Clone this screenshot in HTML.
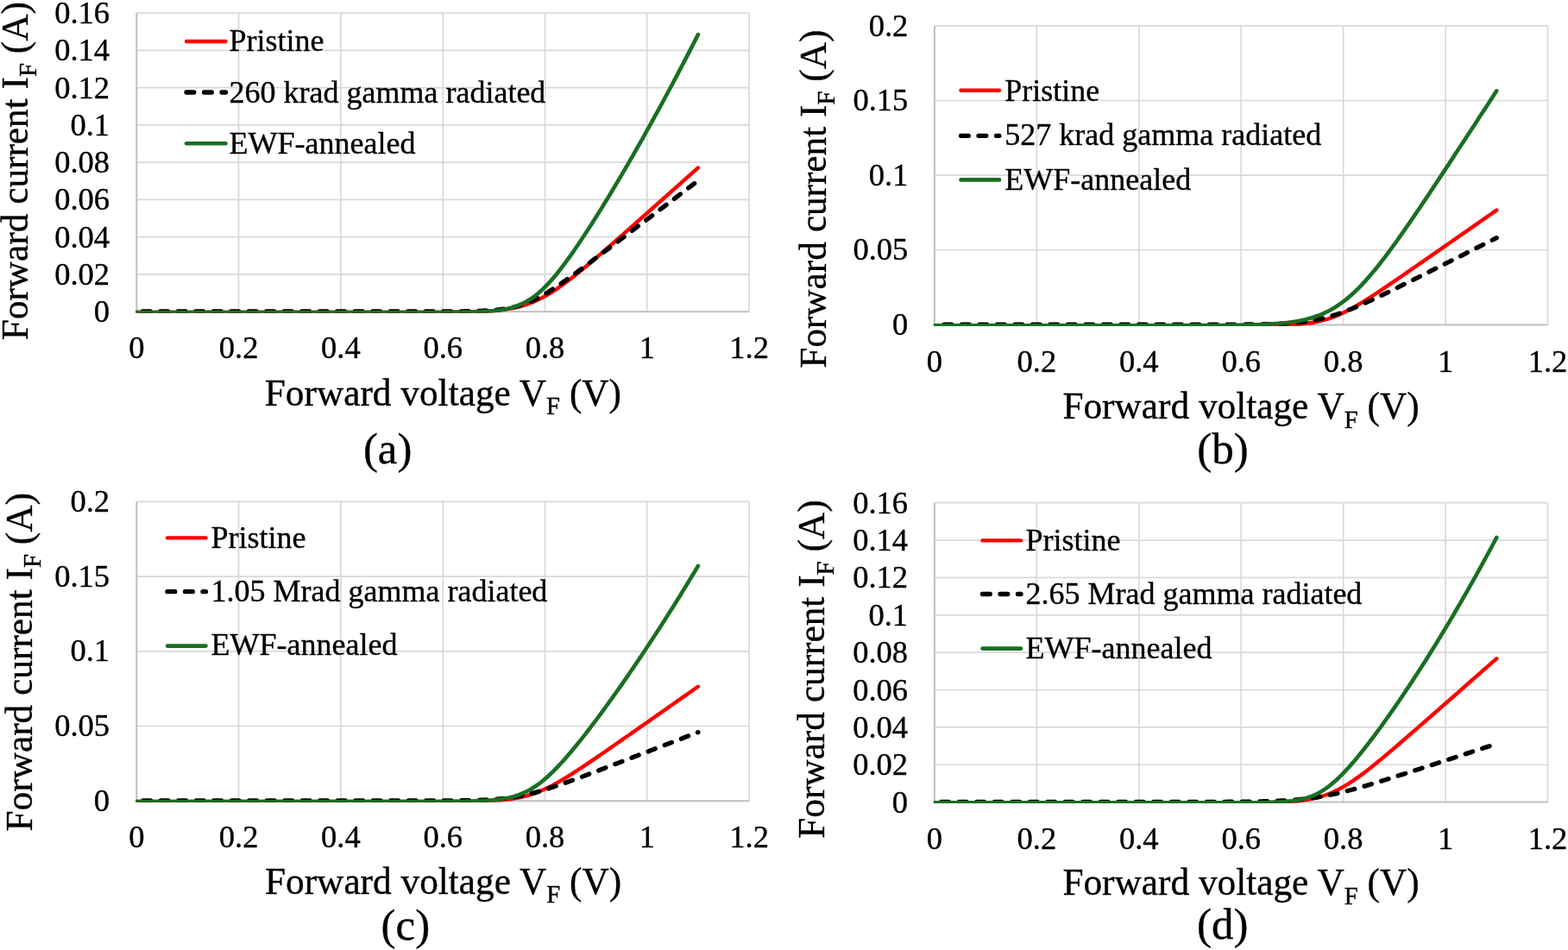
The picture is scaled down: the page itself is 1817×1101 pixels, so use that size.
<!DOCTYPE html>
<html lang="en"><head><meta charset="utf-8"><title>Forward I-V characteristics</title>
<style>
html,body{margin:0;padding:0;background:#fff;}
body{width:1817px;height:1101px;overflow:hidden;font-family:"Liberation Serif",serif;}
svg{display:block;}
</style></head><body>
<svg width="1817" height="1101" viewBox="0 0 1817 1101" font-family="Liberation Serif, serif" fill="#000">
<style>text{stroke:#000;stroke-width:0.35px;stroke-linejoin:round}</style>
<rect width="1817" height="1101" fill="#fff"/>
<g id="panel-a">
<path d="M158.3 317.94H868.1M158.3 274.68H868.1M158.3 231.41H868.1M158.3 188.15H868.1M158.3 144.89H868.1M158.3 101.62H868.1M158.3 58.36H868.1M158.3 15.1H868.1M276.6 15.1V361.2M394.9 15.1V361.2M513.2 15.1V361.2M631.5 15.1V361.2M749.8 15.1V361.2M868.1 15.1V361.2" stroke="#d9d9d9" stroke-width="1.7" fill="none"/>
<path d="M158.3 15.1V361.2H868.1" stroke="#bfbfbf" stroke-width="2" fill="none" stroke-linejoin="round"/>
<clipPath id="clip-a"><rect x="157.3" y="14.1" width="711.8" height="348.6"/></clipPath>
<g clip-path="url(#clip-a)">
<path d="M158.3 362 L161.26 362 L164.22 362 L167.17 362 L170.13 362 L173.09 362 L176.05 362 L179 362 L181.96 362 L184.92 362 L187.88 362 L190.83 362 L193.79 362 L196.75 362 L199.71 362 L202.66 362 L205.62 362 L208.58 362 L211.53 362 L214.49 362 L217.45 362 L220.41 362 L223.37 362 L226.32 362 L229.28 362 L232.24 362 L235.19 362 L238.15 362 L241.11 362 L244.07 362 L247.03 362 L249.98 362 L252.94 362 L255.9 362 L258.86 362 L261.81 362 L264.77 362 L267.73 362 L270.69 362 L273.64 362 L276.6 362 L279.56 362 L282.51 362 L285.47 362 L288.43 362 L291.39 362 L294.35 362 L297.3 362 L300.26 362 L303.22 362 L306.18 362 L309.13 362 L312.09 362 L315.05 362 L318 362 L320.96 362 L323.92 362 L326.88 362 L329.84 362 L332.79 362 L335.75 362 L338.71 362 L341.67 362 L344.62 362 L347.58 362 L350.54 362 L353.5 362 L356.45 362 L359.41 362 L362.37 362 L365.33 362 L368.28 362 L371.24 362 L374.2 362 L377.15 362 L380.11 362 L383.07 362 L386.03 362 L388.99 362 L391.94 362 L394.9 362 L397.86 362 L400.82 362 L403.77 362 L406.73 362 L409.69 362 L412.64 362 L415.6 362 L418.56 362 L421.52 362 L424.47 362 L427.43 362 L430.39 362 L433.35 362 L436.31 362 L439.26 362 L442.22 362 L445.18 361.99 L448.13 361.99 L451.09 361.99 L454.05 361.99 L457.01 361.99 L459.97 361.99 L462.92 361.99 L465.88 361.99 L468.84 361.98 L471.8 361.98 L474.75 361.98 L477.71 361.98 L480.67 361.97 L483.62 361.97 L486.58 361.96 L489.54 361.96 L492.5 361.95 L495.46 361.94 L498.41 361.94 L501.37 361.93 L504.33 361.92 L507.28 361.9 L510.24 361.89 L513.2 361.87 L516.16 361.85 L519.12 361.83 L522.07 361.81 L525.03 361.78 L527.99 361.75 L530.94 361.71 L533.9 361.67 L536.86 361.62 L539.82 361.57 L542.78 361.5 L545.73 361.43 L548.69 361.35 L551.65 361.25 L554.61 361.14 L557.56 361.02 L560.52 360.88 L563.48 360.72 L566.44 360.53 L569.39 360.33 L572.35 360.09 L575.31 359.82 L578.26 359.52 L581.22 359.18 L584.18 358.79 L587.14 358.36 L590.1 357.88 L593.05 357.34 L596.01 356.73 L598.97 356.06 L601.92 355.32 L604.88 354.51 L607.84 353.61 L610.8 352.63 L613.75 351.57 L616.71 350.41 L619.67 349.17 L622.63 347.84 L625.59 346.41 L628.54 344.9 L631.5 343.29 L634.46 341.61 L637.41 339.84 L640.37 337.99 L643.33 336.07 L646.29 334.08 L649.25 332.03 L652.2 329.91 L655.16 327.74 L658.12 325.52 L661.08 323.26 L664.03 320.95 L666.99 318.61 L669.95 316.24 L672.9 313.83 L675.86 311.4 L678.82 308.94 L681.78 306.46 L684.73 303.97 L687.69 301.45 L690.65 298.93 L693.61 296.39 L696.57 293.84 L699.52 291.28 L702.48 288.71 L705.44 286.13 L708.39 283.55 L711.35 280.96 L714.31 278.36 L717.27 275.76 L720.23 273.16 L723.18 270.55 L726.14 267.95 L729.1 265.33 L732.06 262.72 L735.01 260.1 L737.97 257.49 L740.93 254.87 L743.88 252.25 L746.84 249.63 L749.8 247 L752.76 244.38 L755.71 241.75 L758.67 239.13 L761.63 236.5 L764.59 233.88 L767.55 231.25 L770.5 228.63 L773.46 226 L776.42 223.37 L779.38 220.74 L782.33 218.12 L785.29 215.49 L788.25 212.86 L791.2 210.23 L794.16 207.6 L797.12 204.97 L800.08 202.35 L803.04 199.72 L805.99 197.09 L808.95 194.46" stroke="#ff0000" stroke-width="4.4" fill="none" stroke-linecap="round" stroke-linejoin="round"/>
<path d="M808.95 209.38 L805.99 211.62 L803.04 213.87 L800.08 216.11 L797.12 218.36 L794.16 220.6 L791.2 222.84 L788.25 225.09 L785.29 227.33 L782.33 229.58 L779.38 231.82 L776.42 234.06 L773.46 236.31 L770.5 238.55 L767.55 240.8 L764.59 243.04 L761.63 245.28 L758.67 247.53 L755.71 249.77 L752.76 252.02 L749.8 254.26 L746.84 256.5 L743.88 258.75 L740.93 260.99 L737.97 263.23 L735.01 265.47 L732.06 267.72 L729.1 269.96 L726.14 272.2 L723.18 274.44 L720.23 276.68 L717.27 278.92 L714.31 281.16 L711.35 283.4 L708.39 285.63 L705.44 287.87 L702.48 290.1 L699.52 292.34 L696.57 294.56 L693.61 296.79 L690.65 299.02 L687.69 301.24 L684.73 303.45 L681.78 305.66 L678.82 307.87 L675.86 310.06 L672.9 312.25 L669.95 314.43 L666.99 316.6 L664.03 318.76 L661.08 320.9 L658.12 323.02 L655.16 325.12 L652.2 327.2 L649.25 329.25 L646.29 331.26 L643.33 333.24 L640.37 335.18 L637.41 337.07 L634.46 338.91 L631.5 340.69 L628.54 342.41 L625.59 344.06 L622.63 345.63 L619.67 347.12 L616.71 348.52 L613.75 349.83 L610.8 351.05 L607.84 352.18 L604.88 353.22 L601.92 354.16 L598.97 355.01 L596.01 355.78 L593.05 356.46 L590.1 357.07 L587.14 357.6 L584.18 358.07 L581.22 358.48 L578.26 358.84 L575.31 359.15 L572.35 359.42 L569.39 359.65 L566.44 359.85 L563.48 360.02 L560.52 360.17 L557.56 360.29 L554.61 360.4 L551.65 360.49 L548.69 360.57 L545.73 360.63 L542.78 360.69 L539.82 360.74 L536.86 360.78 L533.9 360.81 L530.94 360.84 L527.99 360.86 L525.03 360.89 L522.07 360.9 L519.12 360.92 L516.16 360.93 L513.2 360.94 L510.24 360.95 L507.28 360.96 L504.33 360.96 L501.37 360.97 L498.41 360.97 L495.46 360.98 L492.5 360.98 L489.54 360.98 L486.58 360.99 L483.62 360.99 L480.67 360.99 L477.71 360.99 L474.75 360.99 L471.8 360.99 L468.84 361 L465.88 361 L462.92 361 L459.97 361 L457.01 361 L454.05 361 L451.09 361 L448.13 361 L445.18 361 L442.22 361 L439.26 361 L436.31 361 L433.35 361 L430.39 361 L427.43 361 L424.47 361 L421.52 361 L418.56 361 L415.6 361 L412.64 361 L409.69 361 L406.73 361 L403.77 361 L400.82 361 L397.86 361 L394.9 361 L391.94 361 L388.99 361 L386.03 361 L383.07 361 L380.11 361 L377.15 361 L374.2 361 L371.24 361 L368.28 361 L365.33 361 L362.37 361 L359.41 361 L356.45 361 L353.5 361 L350.54 361 L347.58 361 L344.62 361 L341.67 361 L338.71 361 L335.75 361 L332.79 361 L329.84 361 L326.88 361 L323.92 361 L320.96 361 L318 361 L315.05 361 L312.09 361 L309.13 361 L306.18 361 L303.22 361 L300.26 361 L297.3 361 L294.35 361 L291.39 361 L288.43 361 L285.47 361 L282.51 361 L279.56 361 L276.6 361 L273.64 361 L270.69 361 L267.73 361 L264.77 361 L261.81 361 L258.86 361 L255.9 361 L252.94 361 L249.98 361 L247.03 361 L244.07 361 L241.11 361 L238.15 361 L235.19 361 L232.24 361 L229.28 361 L226.32 361 L223.37 361 L220.41 361 L217.45 361 L214.49 361 L211.53 361 L208.58 361 L205.62 361 L202.66 361 L199.71 361 L196.75 361 L193.79 361 L190.83 361 L187.88 361 L184.92 361 L181.96 361 L179 361 L176.05 361 L173.09 361 L170.13 361 L167.17 361 L164.22 361 L161.26 361 L158.3 361" stroke="#000000" stroke-width="5.3" fill="none" stroke-linecap="round" stroke-linejoin="round" stroke-dasharray="8.8 11.7" stroke-dashoffset="15.2"/>
<path d="M158.3 362 L161.26 362 L164.22 362 L167.17 362 L170.13 362 L173.09 362 L176.05 362 L179 362 L181.96 362 L184.92 362 L187.88 362 L190.83 362 L193.79 362 L196.75 362 L199.71 362 L202.66 362 L205.62 362 L208.58 362 L211.53 362 L214.49 362 L217.45 362 L220.41 362 L223.37 362 L226.32 362 L229.28 362 L232.24 362 L235.19 362 L238.15 362 L241.11 362 L244.07 362 L247.03 362 L249.98 362 L252.94 362 L255.9 362 L258.86 362 L261.81 362 L264.77 362 L267.73 362 L270.69 362 L273.64 362 L276.6 362 L279.56 362 L282.51 362 L285.47 362 L288.43 362 L291.39 362 L294.35 362 L297.3 362 L300.26 362 L303.22 362 L306.18 362 L309.13 362 L312.09 362 L315.05 362 L318 362 L320.96 362 L323.92 362 L326.88 362 L329.84 362 L332.79 362 L335.75 362 L338.71 362 L341.67 362 L344.62 362 L347.58 362 L350.54 362 L353.5 362 L356.45 362 L359.41 362 L362.37 362 L365.33 362 L368.28 362 L371.24 362 L374.2 362 L377.15 362 L380.11 362 L383.07 362 L386.03 362 L388.99 362 L391.94 362 L394.9 362 L397.86 362 L400.82 362 L403.77 362 L406.73 362 L409.69 362 L412.64 362 L415.6 362 L418.56 362 L421.52 362 L424.47 362 L427.43 362 L430.39 362 L433.35 362 L436.31 362 L439.26 362 L442.22 362 L445.18 362 L448.13 362 L451.09 362 L454.05 362 L457.01 362 L459.97 362 L462.92 362 L465.88 362 L468.84 361.99 L471.8 361.99 L474.75 361.99 L477.71 361.99 L480.67 361.99 L483.62 361.99 L486.58 361.98 L489.54 361.98 L492.5 361.98 L495.46 361.97 L498.41 361.97 L501.37 361.96 L504.33 361.96 L507.28 361.95 L510.24 361.94 L513.2 361.93 L516.16 361.92 L519.12 361.9 L522.07 361.89 L525.03 361.87 L527.99 361.84 L530.94 361.81 L533.9 361.78 L536.86 361.74 L539.82 361.69 L542.78 361.64 L545.73 361.57 L548.69 361.5 L551.65 361.41 L554.61 361.3 L557.56 361.18 L560.52 361.03 L563.48 360.86 L566.44 360.66 L569.39 360.42 L572.35 360.15 L575.31 359.82 L578.26 359.45 L581.22 359.01 L584.18 358.5 L587.14 357.92 L590.1 357.24 L593.05 356.46 L596.01 355.58 L598.97 354.56 L601.92 353.42 L604.88 352.12 L607.84 350.67 L610.8 349.06 L613.75 347.27 L616.71 345.3 L619.67 343.15 L622.63 340.81 L625.59 338.29 L628.54 335.59 L631.5 332.72 L634.46 329.68 L637.41 326.48 L640.37 323.13 L643.33 319.64 L646.29 316.02 L649.25 312.28 L652.2 308.43 L655.16 304.47 L658.12 300.43 L661.08 296.3 L664.03 292.09 L666.99 287.81 L669.95 283.46 L672.9 279.05 L675.86 274.59 L678.82 270.08 L681.78 265.52 L684.73 260.91 L687.69 256.27 L690.65 251.58 L693.61 246.85 L696.57 242.09 L699.52 237.3 L702.48 232.47 L705.44 227.61 L708.39 222.72 L711.35 217.79 L714.31 212.84 L717.27 207.86 L720.23 202.85 L723.18 197.81 L726.14 192.74 L729.1 187.65 L732.06 182.53 L735.01 177.38 L737.97 172.2 L740.93 167 L743.88 161.77 L746.84 156.51 L749.8 151.23 L752.76 145.92 L755.71 140.59 L758.67 135.22 L761.63 129.84 L764.59 124.42 L767.55 118.98 L770.5 113.52 L773.46 108.02 L776.42 102.51 L779.38 96.96 L782.33 91.39 L785.29 85.8 L788.25 80.17 L791.2 74.53 L794.16 68.85 L797.12 63.15 L800.08 57.43 L803.04 51.68 L805.99 45.9 L808.95 40.09" stroke="#1a6f22" stroke-width="4.6" fill="none" stroke-linecap="round" stroke-linejoin="round"/>
</g>
<g font-size="36.5" text-anchor="end">
<text x="127" y="373.1">0</text>
<text x="127" y="329.84">0.02</text>
<text x="127" y="286.57">0.04</text>
<text x="127" y="243.31">0.06</text>
<text x="127" y="200.05">0.08</text>
<text x="127" y="156.79">0.1</text>
<text x="127" y="113.53">0.12</text>
<text x="127" y="70.26">0.14</text>
<text x="127" y="27">0.16</text>
</g>
<g font-size="36.5" text-anchor="middle">
<text x="158.3" y="415.4">0</text>
<text x="276.6" y="415.4">0.2</text>
<text x="394.9" y="415.4">0.4</text>
<text x="513.2" y="415.4">0.6</text>
<text x="631.5" y="415.4">0.8</text>
<text x="749.8" y="415.4">1</text>
<text x="868.1" y="415.4">1.2</text>
</g>
<path d="M216 48H261.5" stroke="#ff0000" stroke-width="4.4" stroke-linecap="round"/>
<text x="265.5" y="58.7" font-size="36.0">Pristine</text>
<path d="M216 107H261.5" stroke="#000000" stroke-width="5.3" stroke-linecap="round" stroke-dasharray="8.8 11.7"/>
<text x="265.5" y="118.9" font-size="36.0">260 krad gamma radiated</text>
<path d="M216 166.3H261.5" stroke="#1a6f22" stroke-width="4.6" stroke-linecap="round"/>
<text x="265.5" y="178" font-size="36.0">EWF-annealed</text>
<text x="513.4" y="469.6" font-size="43.3" text-anchor="middle">Forward voltage V<tspan font-size="28.79" dy="10.3">F</tspan><tspan dy="-10.3"> (V)</tspan></text>
<text transform="translate(31.5 198.2) rotate(-90)" font-size="43.3" text-anchor="middle">Forward current I<tspan font-size="28.79" dy="10.3">F</tspan><tspan dy="-10.3"> (A)</tspan></text>
<text x="449.2" y="536.6" font-size="51" text-anchor="middle">(a)</text>
</g>
<g id="panel-b">
<path d="M1082.9 289.77H1793.5M1082.9 203.15H1793.5M1082.9 116.52H1793.5M1082.9 29.9H1793.5M1201.33 29.9V376.4M1319.77 29.9V376.4M1438.2 29.9V376.4M1556.63 29.9V376.4M1675.07 29.9V376.4M1793.5 29.9V376.4" stroke="#d9d9d9" stroke-width="1.7" fill="none"/>
<path d="M1082.9 29.9V376.4H1793.5" stroke="#bfbfbf" stroke-width="2" fill="none" stroke-linejoin="round"/>
<clipPath id="clip-b"><rect x="1081.9" y="28.9" width="712.6" height="349"/></clipPath>
<g clip-path="url(#clip-b)">
<path d="M1082.9 377.2 L1085.86 377.2 L1088.82 377.2 L1091.78 377.2 L1094.74 377.2 L1097.7 377.2 L1100.67 377.2 L1103.63 377.2 L1106.59 377.2 L1109.55 377.2 L1112.51 377.2 L1115.47 377.2 L1118.43 377.2 L1121.39 377.2 L1124.35 377.2 L1127.31 377.2 L1130.27 377.2 L1133.23 377.2 L1136.2 377.2 L1139.16 377.2 L1142.12 377.2 L1145.08 377.2 L1148.04 377.2 L1151 377.2 L1153.96 377.2 L1156.92 377.2 L1159.88 377.2 L1162.84 377.2 L1165.8 377.2 L1168.76 377.2 L1171.73 377.2 L1174.69 377.2 L1177.65 377.2 L1180.61 377.2 L1183.57 377.2 L1186.53 377.2 L1189.49 377.2 L1192.45 377.2 L1195.41 377.2 L1198.37 377.2 L1201.33 377.2 L1204.29 377.2 L1207.26 377.2 L1210.22 377.2 L1213.18 377.2 L1216.14 377.2 L1219.1 377.2 L1222.06 377.2 L1225.02 377.2 L1227.98 377.2 L1230.94 377.2 L1233.9 377.2 L1236.86 377.2 L1239.82 377.2 L1242.79 377.2 L1245.75 377.2 L1248.71 377.2 L1251.67 377.2 L1254.63 377.2 L1257.59 377.2 L1260.55 377.2 L1263.51 377.2 L1266.47 377.2 L1269.43 377.2 L1272.39 377.2 L1275.35 377.2 L1278.32 377.2 L1281.28 377.2 L1284.24 377.2 L1287.2 377.2 L1290.16 377.2 L1293.12 377.2 L1296.08 377.2 L1299.04 377.2 L1302 377.2 L1304.96 377.2 L1307.92 377.2 L1310.88 377.2 L1313.85 377.2 L1316.81 377.2 L1319.77 377.2 L1322.73 377.2 L1325.69 377.2 L1328.65 377.2 L1331.61 377.2 L1334.57 377.2 L1337.53 377.2 L1340.49 377.2 L1343.45 377.2 L1346.41 377.2 L1349.38 377.2 L1352.34 377.2 L1355.3 377.2 L1358.26 377.2 L1361.22 377.2 L1364.18 377.2 L1367.14 377.2 L1370.1 377.2 L1373.06 377.2 L1376.02 377.2 L1378.98 377.2 L1381.94 377.2 L1384.91 377.2 L1387.87 377.2 L1390.83 377.2 L1393.79 377.2 L1396.75 377.2 L1399.71 377.19 L1402.67 377.19 L1405.63 377.19 L1408.59 377.19 L1411.55 377.19 L1414.51 377.19 L1417.47 377.19 L1420.44 377.18 L1423.4 377.18 L1426.36 377.18 L1429.32 377.17 L1432.28 377.17 L1435.24 377.16 L1438.2 377.16 L1441.16 377.15 L1444.12 377.14 L1447.08 377.13 L1450.04 377.12 L1453 377.1 L1455.97 377.09 L1458.93 377.07 L1461.89 377.04 L1464.85 377.02 L1467.81 376.99 L1470.77 376.95 L1473.73 376.91 L1476.69 376.85 L1479.65 376.79 L1482.61 376.72 L1485.57 376.64 L1488.53 376.55 L1491.5 376.44 L1494.46 376.31 L1497.42 376.16 L1500.38 375.98 L1503.34 375.78 L1506.3 375.54 L1509.26 375.27 L1512.22 374.96 L1515.18 374.61 L1518.14 374.2 L1521.1 373.74 L1524.06 373.22 L1527.03 372.63 L1529.99 371.98 L1532.95 371.24 L1535.91 370.44 L1538.87 369.55 L1541.83 368.57 L1544.79 367.52 L1547.75 366.38 L1550.71 365.16 L1553.67 363.86 L1556.63 362.48 L1559.59 361.04 L1562.56 359.52 L1565.52 357.94 L1568.48 356.31 L1571.44 354.62 L1574.4 352.89 L1577.36 351.11 L1580.32 349.3 L1583.28 347.45 L1586.24 345.58 L1589.2 343.67 L1592.16 341.75 L1595.12 339.81 L1598.09 337.85 L1601.05 335.87 L1604.01 333.88 L1606.97 331.89 L1609.93 329.88 L1612.89 327.86 L1615.85 325.84 L1618.81 323.81 L1621.77 321.78 L1624.73 319.74 L1627.69 317.7 L1630.65 315.66 L1633.62 313.61 L1636.58 311.56 L1639.54 309.51 L1642.5 307.46 L1645.46 305.41 L1648.42 303.35 L1651.38 301.3 L1654.34 299.24 L1657.3 297.18 L1660.26 295.13 L1663.22 293.07 L1666.18 291.01 L1669.14 288.95 L1672.11 286.89 L1675.07 284.83 L1678.03 282.77 L1680.99 280.71 L1683.95 278.65 L1686.91 276.59 L1689.87 274.52 L1692.83 272.46 L1695.79 270.4 L1698.75 268.34 L1701.71 266.28 L1704.68 264.22 L1707.64 262.16 L1710.6 260.1 L1713.56 258.03 L1716.52 255.97 L1719.48 253.91 L1722.44 251.85 L1725.4 249.79 L1728.36 247.73 L1731.32 245.66 L1734.28 243.6" stroke="#ff0000" stroke-width="4.4" fill="none" stroke-linecap="round" stroke-linejoin="round"/>
<path d="M1734.28 275.69 L1731.32 277.18 L1728.36 278.67 L1725.4 280.16 L1722.44 281.65 L1719.48 283.14 L1716.52 284.63 L1713.56 286.12 L1710.6 287.61 L1707.64 289.1 L1704.68 290.59 L1701.71 292.08 L1698.75 293.57 L1695.79 295.06 L1692.83 296.55 L1689.87 298.04 L1686.91 299.53 L1683.95 301.02 L1680.99 302.51 L1678.03 304 L1675.07 305.49 L1672.11 306.97 L1669.14 308.46 L1666.18 309.95 L1663.22 311.44 L1660.26 312.92 L1657.3 314.41 L1654.34 315.89 L1651.38 317.38 L1648.42 318.86 L1645.46 320.34 L1642.5 321.82 L1639.54 323.3 L1636.58 324.78 L1633.62 326.25 L1630.65 327.72 L1627.69 329.19 L1624.73 330.66 L1621.77 332.13 L1618.81 333.59 L1615.85 335.04 L1612.89 336.5 L1609.93 337.94 L1606.97 339.38 L1604.01 340.81 L1601.05 342.24 L1598.09 343.65 L1595.12 345.06 L1592.16 346.45 L1589.2 347.84 L1586.24 349.2 L1583.28 350.55 L1580.32 351.89 L1577.36 353.2 L1574.4 354.49 L1571.44 355.76 L1568.48 357 L1565.52 358.21 L1562.56 359.39 L1559.59 360.53 L1556.63 361.64 L1553.67 362.71 L1550.71 363.73 L1547.75 364.72 L1544.79 365.65 L1541.83 366.54 L1538.87 367.38 L1535.91 368.17 L1532.95 368.92 L1529.99 369.61 L1527.03 370.25 L1524.06 370.84 L1521.1 371.39 L1518.14 371.89 L1515.18 372.35 L1512.22 372.76 L1509.26 373.14 L1506.3 373.48 L1503.34 373.79 L1500.38 374.06 L1497.42 374.31 L1494.46 374.53 L1491.5 374.73 L1488.53 374.9 L1485.57 375.06 L1482.61 375.19 L1479.65 375.31 L1476.69 375.42 L1473.73 375.52 L1470.77 375.6 L1467.81 375.67 L1464.85 375.74 L1461.89 375.8 L1458.93 375.85 L1455.97 375.89 L1453 375.93 L1450.04 375.96 L1447.08 375.99 L1444.12 376.02 L1441.16 376.04 L1438.2 376.06 L1435.24 376.08 L1432.28 376.09 L1429.32 376.11 L1426.36 376.12 L1423.4 376.13 L1420.44 376.14 L1417.47 376.14 L1414.51 376.15 L1411.55 376.16 L1408.59 376.16 L1405.63 376.17 L1402.67 376.17 L1399.71 376.18 L1396.75 376.18 L1393.79 376.18 L1390.83 376.18 L1387.87 376.19 L1384.91 376.19 L1381.94 376.19 L1378.98 376.19 L1376.02 376.19 L1373.06 376.19 L1370.1 376.19 L1367.14 376.19 L1364.18 376.2 L1361.22 376.2 L1358.26 376.2 L1355.3 376.2 L1352.34 376.2 L1349.38 376.2 L1346.41 376.2 L1343.45 376.2 L1340.49 376.2 L1337.53 376.2 L1334.57 376.2 L1331.61 376.2 L1328.65 376.2 L1325.69 376.2 L1322.73 376.2 L1319.77 376.2 L1316.81 376.2 L1313.85 376.2 L1310.88 376.2 L1307.92 376.2 L1304.96 376.2 L1302 376.2 L1299.04 376.2 L1296.08 376.2 L1293.12 376.2 L1290.16 376.2 L1287.2 376.2 L1284.24 376.2 L1281.28 376.2 L1278.32 376.2 L1275.35 376.2 L1272.39 376.2 L1269.43 376.2 L1266.47 376.2 L1263.51 376.2 L1260.55 376.2 L1257.59 376.2 L1254.63 376.2 L1251.67 376.2 L1248.71 376.2 L1245.75 376.2 L1242.79 376.2 L1239.82 376.2 L1236.86 376.2 L1233.9 376.2 L1230.94 376.2 L1227.98 376.2 L1225.02 376.2 L1222.06 376.2 L1219.1 376.2 L1216.14 376.2 L1213.18 376.2 L1210.22 376.2 L1207.26 376.2 L1204.29 376.2 L1201.33 376.2 L1198.37 376.2 L1195.41 376.2 L1192.45 376.2 L1189.49 376.2 L1186.53 376.2 L1183.57 376.2 L1180.61 376.2 L1177.65 376.2 L1174.69 376.2 L1171.73 376.2 L1168.76 376.2 L1165.8 376.2 L1162.84 376.2 L1159.88 376.2 L1156.92 376.2 L1153.96 376.2 L1151 376.2 L1148.04 376.2 L1145.08 376.2 L1142.12 376.2 L1139.16 376.2 L1136.2 376.2 L1133.23 376.2 L1130.27 376.2 L1127.31 376.2 L1124.35 376.2 L1121.39 376.2 L1118.43 376.2 L1115.47 376.2 L1112.51 376.2 L1109.55 376.2 L1106.59 376.2 L1103.63 376.2 L1100.67 376.2 L1097.7 376.2 L1094.74 376.2 L1091.78 376.2 L1088.82 376.2 L1085.86 376.2 L1082.9 376.2" stroke="#000000" stroke-width="5.3" fill="none" stroke-linecap="round" stroke-linejoin="round" stroke-dasharray="8.8 11.7" stroke-dashoffset="3.1"/>
<path d="M1082.9 377.2 L1085.86 377.2 L1088.82 377.2 L1091.78 377.2 L1094.74 377.2 L1097.7 377.2 L1100.67 377.2 L1103.63 377.2 L1106.59 377.2 L1109.55 377.2 L1112.51 377.2 L1115.47 377.2 L1118.43 377.2 L1121.39 377.2 L1124.35 377.2 L1127.31 377.2 L1130.27 377.2 L1133.23 377.2 L1136.2 377.2 L1139.16 377.2 L1142.12 377.2 L1145.08 377.2 L1148.04 377.2 L1151 377.2 L1153.96 377.2 L1156.92 377.2 L1159.88 377.2 L1162.84 377.2 L1165.8 377.2 L1168.76 377.2 L1171.73 377.2 L1174.69 377.2 L1177.65 377.2 L1180.61 377.2 L1183.57 377.2 L1186.53 377.2 L1189.49 377.2 L1192.45 377.2 L1195.41 377.2 L1198.37 377.2 L1201.33 377.2 L1204.29 377.2 L1207.26 377.2 L1210.22 377.2 L1213.18 377.2 L1216.14 377.2 L1219.1 377.2 L1222.06 377.2 L1225.02 377.2 L1227.98 377.2 L1230.94 377.2 L1233.9 377.2 L1236.86 377.2 L1239.82 377.2 L1242.79 377.2 L1245.75 377.2 L1248.71 377.2 L1251.67 377.2 L1254.63 377.2 L1257.59 377.2 L1260.55 377.2 L1263.51 377.2 L1266.47 377.2 L1269.43 377.2 L1272.39 377.2 L1275.35 377.2 L1278.32 377.2 L1281.28 377.2 L1284.24 377.2 L1287.2 377.2 L1290.16 377.2 L1293.12 377.2 L1296.08 377.2 L1299.04 377.2 L1302 377.2 L1304.96 377.2 L1307.92 377.2 L1310.88 377.2 L1313.85 377.2 L1316.81 377.2 L1319.77 377.19 L1322.73 377.19 L1325.69 377.19 L1328.65 377.19 L1331.61 377.19 L1334.57 377.19 L1337.53 377.19 L1340.49 377.19 L1343.45 377.19 L1346.41 377.19 L1349.38 377.18 L1352.34 377.18 L1355.3 377.18 L1358.26 377.18 L1361.22 377.17 L1364.18 377.17 L1367.14 377.17 L1370.1 377.17 L1373.06 377.16 L1376.02 377.16 L1378.98 377.15 L1381.94 377.15 L1384.91 377.14 L1387.87 377.13 L1390.83 377.12 L1393.79 377.11 L1396.75 377.1 L1399.71 377.09 L1402.67 377.08 L1405.63 377.07 L1408.59 377.05 L1411.55 377.03 L1414.51 377.01 L1417.47 376.99 L1420.44 376.97 L1423.4 376.94 L1426.36 376.91 L1429.32 376.88 L1432.28 376.84 L1435.24 376.79 L1438.2 376.75 L1441.16 376.69 L1444.12 376.63 L1447.08 376.57 L1450.04 376.49 L1453 376.41 L1455.97 376.32 L1458.93 376.22 L1461.89 376.1 L1464.85 375.97 L1467.81 375.83 L1470.77 375.67 L1473.73 375.5 L1476.69 375.3 L1479.65 375.08 L1482.61 374.84 L1485.57 374.57 L1488.53 374.27 L1491.5 373.93 L1494.46 373.57 L1497.42 373.16 L1500.38 372.71 L1503.34 372.21 L1506.3 371.66 L1509.26 371.05 L1512.22 370.38 L1515.18 369.64 L1518.14 368.84 L1521.1 367.95 L1524.06 366.99 L1527.03 365.94 L1529.99 364.79 L1532.95 363.55 L1535.91 362.2 L1538.87 360.74 L1541.83 359.18 L1544.79 357.49 L1547.75 355.69 L1550.71 353.76 L1553.67 351.71 L1556.63 349.53 L1559.59 347.22 L1562.56 344.79 L1565.52 342.23 L1568.48 339.55 L1571.44 336.74 L1574.4 333.82 L1577.36 330.79 L1580.32 327.64 L1583.28 324.39 L1586.24 321.03 L1589.2 317.58 L1592.16 314.04 L1595.12 310.42 L1598.09 306.71 L1601.05 302.93 L1604.01 299.08 L1606.97 295.17 L1609.93 291.2 L1612.89 287.18 L1615.85 283.1 L1618.81 278.98 L1621.77 274.82 L1624.73 270.62 L1627.69 266.39 L1630.65 262.12 L1633.62 257.83 L1636.58 253.51 L1639.54 249.17 L1642.5 244.8 L1645.46 240.42 L1648.42 236.02 L1651.38 231.61 L1654.34 227.18 L1657.3 222.74 L1660.26 218.28 L1663.22 213.82 L1666.18 209.35 L1669.14 204.87 L1672.11 200.38 L1675.07 195.89 L1678.03 191.39 L1680.99 186.88 L1683.95 182.37 L1686.91 177.86 L1689.87 173.34 L1692.83 168.82 L1695.79 164.29 L1698.75 159.77 L1701.71 155.24 L1704.68 150.7 L1707.64 146.17 L1710.6 141.64 L1713.56 137.1 L1716.52 132.56 L1719.48 128.02 L1722.44 123.48 L1725.4 118.94 L1728.36 114.39 L1731.32 109.85 L1734.28 105.31" stroke="#1a6f22" stroke-width="4.6" fill="none" stroke-linecap="round" stroke-linejoin="round"/>
</g>
<g font-size="36.5" text-anchor="end">
<text x="1052.3" y="388">0</text>
<text x="1052.3" y="301.38">0.05</text>
<text x="1052.3" y="214.75">0.1</text>
<text x="1052.3" y="128.12">0.15</text>
<text x="1052.3" y="41.5">0.2</text>
</g>
<g font-size="36.5" text-anchor="middle">
<text x="1082.9" y="431.3">0</text>
<text x="1201.33" y="431.3">0.2</text>
<text x="1319.77" y="431.3">0.4</text>
<text x="1438.2" y="431.3">0.6</text>
<text x="1556.63" y="431.3">0.8</text>
<text x="1675.07" y="431.3">1</text>
<text x="1793.5" y="431.3">1.2</text>
</g>
<path d="M1113.5 104.7H1158" stroke="#ff0000" stroke-width="4.4" stroke-linecap="round"/>
<text x="1164.3" y="116.5" font-size="36.0">Pristine</text>
<path d="M1113.5 157.3H1158" stroke="#000000" stroke-width="5.3" stroke-linecap="round" stroke-dasharray="8.8 11.7"/>
<text x="1164.3" y="168.3" font-size="36.0">527 krad gamma radiated</text>
<path d="M1113.5 208.4H1158" stroke="#1a6f22" stroke-width="4.6" stroke-linecap="round"/>
<text x="1164.3" y="219.9" font-size="36.0">EWF-annealed</text>
<text x="1438" y="485.2" font-size="43.3" text-anchor="middle">Forward voltage V<tspan font-size="28.79" dy="10.3">F</tspan><tspan dy="-10.3"> (V)</tspan></text>
<text transform="translate(956.8 230.7) rotate(-90)" font-size="43.3" text-anchor="middle">Forward current I<tspan font-size="28.79" dy="10.3">F</tspan><tspan dy="-10.3"> (A)</tspan></text>
<text x="1417" y="537.3" font-size="51" text-anchor="middle">(b)</text>
</g>
<g id="panel-c">
<path d="M158.3 841.5H868.1M158.3 754.8H868.1M158.3 668.1H868.1M158.3 581.4H868.1M276.6 581.4V928.2M394.9 581.4V928.2M513.2 581.4V928.2M631.5 581.4V928.2M749.8 581.4V928.2M868.1 581.4V928.2" stroke="#d9d9d9" stroke-width="1.7" fill="none"/>
<path d="M158.3 581.4V928.2H868.1" stroke="#bfbfbf" stroke-width="2" fill="none" stroke-linejoin="round"/>
<clipPath id="clip-c"><rect x="157.3" y="580.4" width="711.8" height="349.3"/></clipPath>
<g clip-path="url(#clip-c)">
<path d="M158.3 929 L161.26 929 L164.22 929 L167.17 929 L170.13 929 L173.09 929 L176.05 929 L179 929 L181.96 929 L184.92 929 L187.88 929 L190.83 929 L193.79 929 L196.75 929 L199.71 929 L202.66 929 L205.62 929 L208.58 929 L211.53 929 L214.49 929 L217.45 929 L220.41 929 L223.37 929 L226.32 929 L229.28 929 L232.24 929 L235.19 929 L238.15 929 L241.11 929 L244.07 929 L247.03 929 L249.98 929 L252.94 929 L255.9 929 L258.86 929 L261.81 929 L264.77 929 L267.73 929 L270.69 929 L273.64 929 L276.6 929 L279.56 929 L282.51 929 L285.47 929 L288.43 929 L291.39 929 L294.35 929 L297.3 929 L300.26 929 L303.22 929 L306.18 929 L309.13 929 L312.09 929 L315.05 929 L318 929 L320.96 929 L323.92 929 L326.88 929 L329.84 929 L332.79 929 L335.75 929 L338.71 929 L341.67 929 L344.62 929 L347.58 929 L350.54 929 L353.5 929 L356.45 929 L359.41 929 L362.37 929 L365.33 929 L368.28 929 L371.24 929 L374.2 929 L377.15 929 L380.11 929 L383.07 929 L386.03 929 L388.99 929 L391.94 929 L394.9 929 L397.86 929 L400.82 929 L403.77 929 L406.73 929 L409.69 929 L412.64 929 L415.6 929 L418.56 929 L421.52 929 L424.47 929 L427.43 929 L430.39 929 L433.35 929 L436.31 929 L439.26 929 L442.22 929 L445.18 929 L448.13 929 L451.09 929 L454.05 929 L457.01 929 L459.97 929 L462.92 929 L465.88 929 L468.84 928.99 L471.8 928.99 L474.75 928.99 L477.71 928.99 L480.67 928.99 L483.62 928.99 L486.58 928.99 L489.54 928.98 L492.5 928.98 L495.46 928.98 L498.41 928.97 L501.37 928.97 L504.33 928.96 L507.28 928.96 L510.24 928.95 L513.2 928.94 L516.16 928.93 L519.12 928.92 L522.07 928.91 L525.03 928.9 L527.99 928.88 L530.94 928.86 L533.9 928.84 L536.86 928.81 L539.82 928.78 L542.78 928.74 L545.73 928.7 L548.69 928.65 L551.65 928.59 L554.61 928.53 L557.56 928.45 L560.52 928.36 L563.48 928.26 L566.44 928.14 L569.39 928 L572.35 927.84 L575.31 927.66 L578.26 927.45 L581.22 927.21 L584.18 926.93 L587.14 926.62 L590.1 926.26 L593.05 925.86 L596.01 925.4 L598.97 924.89 L601.92 924.31 L604.88 923.67 L607.84 922.96 L610.8 922.17 L613.75 921.31 L616.71 920.37 L619.67 919.36 L622.63 918.26 L625.59 917.08 L628.54 915.83 L631.5 914.5 L634.46 913.1 L637.41 911.63 L640.37 910.1 L643.33 908.51 L646.29 906.87 L649.25 905.17 L652.2 903.44 L655.16 901.65 L658.12 899.84 L661.08 897.99 L664.03 896.11 L666.99 894.21 L669.95 892.28 L672.9 890.33 L675.86 888.37 L678.82 886.39 L681.78 884.4 L684.73 882.4 L687.69 880.39 L690.65 878.36 L693.61 876.34 L696.57 874.3 L699.52 872.26 L702.48 870.22 L705.44 868.17 L708.39 866.12 L711.35 864.06 L714.31 862 L717.27 859.94 L720.23 857.88 L723.18 855.82 L726.14 853.75 L729.1 851.68 L732.06 849.62 L735.01 847.55 L737.97 845.48 L740.93 843.41 L743.88 841.34 L746.84 839.27 L749.8 837.2 L752.76 835.12 L755.71 833.05 L758.67 830.98 L761.63 828.91 L764.59 826.83 L767.55 824.76 L770.5 822.69 L773.46 820.62 L776.42 818.54 L779.38 816.47 L782.33 814.4 L785.29 812.32 L788.25 810.25 L791.2 808.17 L794.16 806.1 L797.12 804.03 L800.08 801.95 L803.04 799.88 L805.99 797.81 L808.95 795.73" stroke="#ff0000" stroke-width="4.4" fill="none" stroke-linecap="round" stroke-linejoin="round"/>
<path d="M808.95 848.65 L805.99 849.78 L803.04 850.92 L800.08 852.06 L797.12 853.2 L794.16 854.33 L791.2 855.47 L788.25 856.61 L785.29 857.75 L782.33 858.88 L779.38 860.02 L776.42 861.16 L773.46 862.3 L770.5 863.43 L767.55 864.57 L764.59 865.71 L761.63 866.84 L758.67 867.98 L755.71 869.12 L752.76 870.26 L749.8 871.39 L746.84 872.53 L743.88 873.67 L740.93 874.8 L737.97 875.94 L735.01 877.07 L732.06 878.21 L729.1 879.35 L726.14 880.48 L723.18 881.61 L720.23 882.75 L717.27 883.88 L714.31 885.02 L711.35 886.15 L708.39 887.28 L705.44 888.41 L702.48 889.54 L699.52 890.67 L696.57 891.8 L693.61 892.92 L690.65 894.05 L687.69 895.17 L684.73 896.29 L681.78 897.4 L678.82 898.52 L675.86 899.63 L672.9 900.73 L669.95 901.83 L666.99 902.93 L664.03 904.02 L661.08 905.1 L658.12 906.17 L655.16 907.23 L652.2 908.29 L649.25 909.33 L646.29 910.35 L643.33 911.36 L640.37 912.36 L637.41 913.33 L634.46 914.28 L631.5 915.21 L628.54 916.12 L625.59 916.99 L622.63 917.84 L619.67 918.65 L616.71 919.42 L613.75 920.16 L610.8 920.86 L607.84 921.53 L604.88 922.15 L601.92 922.73 L598.97 923.26 L596.01 923.76 L593.05 924.22 L590.1 924.64 L587.14 925.02 L584.18 925.36 L581.22 925.67 L578.26 925.95 L575.31 926.2 L572.35 926.42 L569.39 926.61 L566.44 926.79 L563.48 926.94 L560.52 927.08 L557.56 927.2 L554.61 927.3 L551.65 927.39 L548.69 927.47 L545.73 927.54 L542.78 927.6 L539.82 927.65 L536.86 927.7 L533.9 927.74 L530.94 927.78 L527.99 927.81 L525.03 927.83 L522.07 927.85 L519.12 927.87 L516.16 927.89 L513.2 927.91 L510.24 927.92 L507.28 927.93 L504.33 927.94 L501.37 927.95 L498.41 927.95 L495.46 927.96 L492.5 927.97 L489.54 927.97 L486.58 927.97 L483.62 927.98 L480.67 927.98 L477.71 927.98 L474.75 927.99 L471.8 927.99 L468.84 927.99 L465.88 927.99 L462.92 927.99 L459.97 927.99 L457.01 927.99 L454.05 927.99 L451.09 928 L448.13 928 L445.18 928 L442.22 928 L439.26 928 L436.31 928 L433.35 928 L430.39 928 L427.43 928 L424.47 928 L421.52 928 L418.56 928 L415.6 928 L412.64 928 L409.69 928 L406.73 928 L403.77 928 L400.82 928 L397.86 928 L394.9 928 L391.94 928 L388.99 928 L386.03 928 L383.07 928 L380.11 928 L377.15 928 L374.2 928 L371.24 928 L368.28 928 L365.33 928 L362.37 928 L359.41 928 L356.45 928 L353.5 928 L350.54 928 L347.58 928 L344.62 928 L341.67 928 L338.71 928 L335.75 928 L332.79 928 L329.84 928 L326.88 928 L323.92 928 L320.96 928 L318 928 L315.05 928 L312.09 928 L309.13 928 L306.18 928 L303.22 928 L300.26 928 L297.3 928 L294.35 928 L291.39 928 L288.43 928 L285.47 928 L282.51 928 L279.56 928 L276.6 928 L273.64 928 L270.69 928 L267.73 928 L264.77 928 L261.81 928 L258.86 928 L255.9 928 L252.94 928 L249.98 928 L247.03 928 L244.07 928 L241.11 928 L238.15 928 L235.19 928 L232.24 928 L229.28 928 L226.32 928 L223.37 928 L220.41 928 L217.45 928 L214.49 928 L211.53 928 L208.58 928 L205.62 928 L202.66 928 L199.71 928 L196.75 928 L193.79 928 L190.83 928 L187.88 928 L184.92 928 L181.96 928 L179 928 L176.05 928 L173.09 928 L170.13 928 L167.17 928 L164.22 928 L161.26 928 L158.3 928" stroke="#000000" stroke-width="5.3" fill="none" stroke-linecap="round" stroke-linejoin="round" stroke-dasharray="8.8 11.7" stroke-dashoffset="8.3"/>
<path d="M158.3 929 L161.26 929 L164.22 929 L167.17 929 L170.13 929 L173.09 929 L176.05 929 L179 929 L181.96 929 L184.92 929 L187.88 929 L190.83 929 L193.79 929 L196.75 929 L199.71 929 L202.66 929 L205.62 929 L208.58 929 L211.53 929 L214.49 929 L217.45 929 L220.41 929 L223.37 929 L226.32 929 L229.28 929 L232.24 929 L235.19 929 L238.15 929 L241.11 929 L244.07 929 L247.03 929 L249.98 929 L252.94 929 L255.9 929 L258.86 929 L261.81 929 L264.77 929 L267.73 929 L270.69 929 L273.64 929 L276.6 929 L279.56 929 L282.51 929 L285.47 929 L288.43 929 L291.39 929 L294.35 929 L297.3 929 L300.26 929 L303.22 929 L306.18 929 L309.13 929 L312.09 929 L315.05 929 L318 929 L320.96 929 L323.92 929 L326.88 929 L329.84 929 L332.79 929 L335.75 929 L338.71 929 L341.67 929 L344.62 929 L347.58 929 L350.54 929 L353.5 929 L356.45 929 L359.41 929 L362.37 929 L365.33 929 L368.28 929 L371.24 929 L374.2 929 L377.15 929 L380.11 929 L383.07 929 L386.03 929 L388.99 929 L391.94 929 L394.9 929 L397.86 929 L400.82 929 L403.77 929 L406.73 929 L409.69 929 L412.64 929 L415.6 929 L418.56 929 L421.52 929 L424.47 929 L427.43 929 L430.39 929 L433.35 929 L436.31 929 L439.26 929 L442.22 929 L445.18 929 L448.13 929 L451.09 929 L454.05 929 L457.01 929 L459.97 929 L462.92 929 L465.88 928.99 L468.84 928.99 L471.8 928.99 L474.75 928.99 L477.71 928.99 L480.67 928.99 L483.62 928.99 L486.58 928.98 L489.54 928.98 L492.5 928.98 L495.46 928.97 L498.41 928.97 L501.37 928.96 L504.33 928.95 L507.28 928.95 L510.24 928.94 L513.2 928.93 L516.16 928.91 L519.12 928.9 L522.07 928.88 L525.03 928.86 L527.99 928.83 L530.94 928.8 L533.9 928.77 L536.86 928.73 L539.82 928.68 L542.78 928.62 L545.73 928.56 L548.69 928.48 L551.65 928.39 L554.61 928.28 L557.56 928.16 L560.52 928.01 L563.48 927.84 L566.44 927.65 L569.39 927.42 L572.35 927.15 L575.31 926.84 L578.26 926.48 L581.22 926.06 L584.18 925.58 L587.14 925.03 L590.1 924.4 L593.05 923.68 L596.01 922.86 L598.97 921.93 L601.92 920.89 L604.88 919.72 L607.84 918.43 L610.8 916.99 L613.75 915.41 L616.71 913.68 L619.67 911.8 L622.63 909.77 L625.59 907.6 L628.54 905.28 L631.5 902.82 L634.46 900.23 L637.41 897.51 L640.37 894.67 L643.33 891.72 L646.29 888.66 L649.25 885.51 L652.2 882.27 L655.16 878.94 L658.12 875.54 L661.08 872.08 L664.03 868.54 L666.99 864.95 L669.95 861.31 L672.9 857.61 L675.86 853.87 L678.82 850.09 L681.78 846.26 L684.73 842.4 L687.69 838.5 L690.65 834.57 L693.61 830.6 L696.57 826.6 L699.52 822.57 L702.48 818.51 L705.44 814.43 L708.39 810.31 L711.35 806.17 L714.31 802 L717.27 797.81 L720.23 793.59 L723.18 789.35 L726.14 785.08 L729.1 780.78 L732.06 776.46 L735.01 772.12 L737.97 767.76 L740.93 763.36 L743.88 758.95 L746.84 754.51 L749.8 750.05 L752.76 745.57 L755.71 741.06 L758.67 736.53 L761.63 731.97 L764.59 727.39 L767.55 722.79 L770.5 718.16 L773.46 713.52 L776.42 708.84 L779.38 704.15 L782.33 699.43 L785.29 694.69 L788.25 689.93 L791.2 685.14 L794.16 680.33 L797.12 675.49 L800.08 670.64 L803.04 665.76 L805.99 660.85 L808.95 655.93" stroke="#1a6f22" stroke-width="4.6" fill="none" stroke-linecap="round" stroke-linejoin="round"/>
</g>
<g font-size="36.5" text-anchor="end">
<text x="127" y="939.8">0</text>
<text x="127" y="853.1">0.05</text>
<text x="127" y="766.4">0.1</text>
<text x="127" y="679.7">0.15</text>
<text x="127" y="593">0.2</text>
</g>
<g font-size="36.5" text-anchor="middle">
<text x="158.3" y="982">0</text>
<text x="276.6" y="982">0.2</text>
<text x="394.9" y="982">0.4</text>
<text x="513.2" y="982">0.6</text>
<text x="631.5" y="982">0.8</text>
<text x="749.8" y="982">1</text>
<text x="868.1" y="982">1.2</text>
</g>
<path d="M194 623.4H238.5" stroke="#ff0000" stroke-width="4.4" stroke-linecap="round"/>
<text x="244.5" y="635.1" font-size="36.0">Pristine</text>
<path d="M194 685.7H238.5" stroke="#000000" stroke-width="5.3" stroke-linecap="round" stroke-dasharray="8.8 11.7"/>
<text x="244.5" y="696.5" font-size="36.0">1.05 Mrad gamma radiated</text>
<path d="M194 748.6H238.5" stroke="#1a6f22" stroke-width="4.6" stroke-linecap="round"/>
<text x="244.5" y="759.1" font-size="36.0">EWF-annealed</text>
<text x="513.6" y="1036.1" font-size="43.3" text-anchor="middle">Forward voltage V<tspan font-size="28.79" dy="10.3">F</tspan><tspan dy="-10.3"> (V)</tspan></text>
<text transform="translate(37 767.3) rotate(-90)" font-size="43.3" text-anchor="middle">Forward current I<tspan font-size="28.79" dy="10.3">F</tspan><tspan dy="-10.3"> (A)</tspan></text>
<text x="469.9" y="1088.5" font-size="51" text-anchor="middle">(c)</text>
</g>
<g id="panel-d">
<path d="M1082.9 886.24H1793.5M1082.9 842.88H1793.5M1082.9 799.51H1793.5M1082.9 756.15H1793.5M1082.9 712.79H1793.5M1082.9 669.43H1793.5M1082.9 626.06H1793.5M1082.9 582.7H1793.5M1201.33 582.7V929.6M1319.77 582.7V929.6M1438.2 582.7V929.6M1556.63 582.7V929.6M1675.07 582.7V929.6M1793.5 582.7V929.6" stroke="#d9d9d9" stroke-width="1.7" fill="none"/>
<path d="M1082.9 582.7V929.6H1793.5" stroke="#bfbfbf" stroke-width="2" fill="none" stroke-linejoin="round"/>
<clipPath id="clip-d"><rect x="1081.9" y="581.7" width="712.6" height="349.4"/></clipPath>
<g clip-path="url(#clip-d)">
<path d="M1082.9 930.4 L1085.86 930.4 L1088.82 930.4 L1091.78 930.4 L1094.74 930.4 L1097.7 930.4 L1100.67 930.4 L1103.63 930.4 L1106.59 930.4 L1109.55 930.4 L1112.51 930.4 L1115.47 930.4 L1118.43 930.4 L1121.39 930.4 L1124.35 930.4 L1127.31 930.4 L1130.27 930.4 L1133.23 930.4 L1136.2 930.4 L1139.16 930.4 L1142.12 930.4 L1145.08 930.4 L1148.04 930.4 L1151 930.4 L1153.96 930.4 L1156.92 930.4 L1159.88 930.4 L1162.84 930.4 L1165.8 930.4 L1168.76 930.4 L1171.73 930.4 L1174.69 930.4 L1177.65 930.4 L1180.61 930.4 L1183.57 930.4 L1186.53 930.4 L1189.49 930.4 L1192.45 930.4 L1195.41 930.4 L1198.37 930.4 L1201.33 930.4 L1204.29 930.4 L1207.26 930.4 L1210.22 930.4 L1213.18 930.4 L1216.14 930.4 L1219.1 930.4 L1222.06 930.4 L1225.02 930.4 L1227.98 930.4 L1230.94 930.4 L1233.9 930.4 L1236.86 930.4 L1239.82 930.4 L1242.79 930.4 L1245.75 930.4 L1248.71 930.4 L1251.67 930.4 L1254.63 930.4 L1257.59 930.4 L1260.55 930.4 L1263.51 930.4 L1266.47 930.4 L1269.43 930.4 L1272.39 930.4 L1275.35 930.4 L1278.32 930.4 L1281.28 930.4 L1284.24 930.4 L1287.2 930.4 L1290.16 930.4 L1293.12 930.4 L1296.08 930.4 L1299.04 930.4 L1302 930.4 L1304.96 930.4 L1307.92 930.4 L1310.88 930.4 L1313.85 930.4 L1316.81 930.4 L1319.77 930.4 L1322.73 930.4 L1325.69 930.4 L1328.65 930.4 L1331.61 930.4 L1334.57 930.4 L1337.53 930.4 L1340.49 930.4 L1343.45 930.4 L1346.41 930.4 L1349.38 930.4 L1352.34 930.4 L1355.3 930.4 L1358.26 930.4 L1361.22 930.4 L1364.18 930.4 L1367.14 930.4 L1370.1 930.4 L1373.06 930.4 L1376.02 930.4 L1378.98 930.4 L1381.94 930.39 L1384.91 930.39 L1387.87 930.39 L1390.83 930.39 L1393.79 930.39 L1396.75 930.39 L1399.71 930.39 L1402.67 930.39 L1405.63 930.38 L1408.59 930.38 L1411.55 930.38 L1414.51 930.37 L1417.47 930.37 L1420.44 930.37 L1423.4 930.36 L1426.36 930.35 L1429.32 930.35 L1432.28 930.34 L1435.24 930.33 L1438.2 930.31 L1441.16 930.3 L1444.12 930.29 L1447.08 930.27 L1450.04 930.25 L1453 930.22 L1455.97 930.19 L1458.93 930.16 L1461.89 930.12 L1464.85 930.08 L1467.81 930.03 L1470.77 929.97 L1473.73 929.9 L1476.69 929.82 L1479.65 929.73 L1482.61 929.62 L1485.57 929.5 L1488.53 929.36 L1491.5 929.2 L1494.46 929.01 L1497.42 928.8 L1500.38 928.56 L1503.34 928.28 L1506.3 927.96 L1509.26 927.6 L1512.22 927.19 L1515.18 926.72 L1518.14 926.2 L1521.1 925.61 L1524.06 924.95 L1527.03 924.22 L1529.99 923.4 L1532.95 922.5 L1535.91 921.51 L1538.87 920.42 L1541.83 919.24 L1544.79 917.97 L1547.75 916.59 L1550.71 915.13 L1553.67 913.56 L1556.63 911.91 L1559.59 910.17 L1562.56 908.34 L1565.52 906.44 L1568.48 904.46 L1571.44 902.42 L1574.4 900.31 L1577.36 898.15 L1580.32 895.93 L1583.28 893.67 L1586.24 891.37 L1589.2 889.03 L1592.16 886.65 L1595.12 884.25 L1598.09 881.82 L1601.05 879.37 L1604.01 876.9 L1606.97 874.41 L1609.93 871.91 L1612.89 869.39 L1615.85 866.87 L1618.81 864.33 L1621.77 861.78 L1624.73 859.23 L1627.69 856.67 L1630.65 854.1 L1633.62 851.53 L1636.58 848.95 L1639.54 846.38 L1642.5 843.79 L1645.46 841.21 L1648.42 838.62 L1651.38 836.03 L1654.34 833.44 L1657.3 830.85 L1660.26 828.26 L1663.22 825.66 L1666.18 823.07 L1669.14 820.47 L1672.11 817.87 L1675.07 815.27 L1678.03 812.68 L1680.99 810.08 L1683.95 807.48 L1686.91 804.88 L1689.87 802.28 L1692.83 799.68 L1695.79 797.08 L1698.75 794.48 L1701.71 791.88 L1704.68 789.28 L1707.64 786.67 L1710.6 784.07 L1713.56 781.47 L1716.52 778.87 L1719.48 776.27 L1722.44 773.67 L1725.4 771.07 L1728.36 768.47 L1731.32 765.86 L1734.28 763.26" stroke="#ff0000" stroke-width="4.4" fill="none" stroke-linecap="round" stroke-linejoin="round"/>
<path d="M1734.28 862 L1731.32 862.97 L1728.36 863.94 L1725.4 864.9 L1722.44 865.87 L1719.48 866.84 L1716.52 867.81 L1713.56 868.77 L1710.6 869.74 L1707.64 870.71 L1704.68 871.68 L1701.71 872.64 L1698.75 873.61 L1695.79 874.58 L1692.83 875.54 L1689.87 876.51 L1686.91 877.48 L1683.95 878.44 L1680.99 879.41 L1678.03 880.37 L1675.07 881.34 L1672.11 882.3 L1669.14 883.27 L1666.18 884.23 L1663.22 885.2 L1660.26 886.16 L1657.3 887.12 L1654.34 888.08 L1651.38 889.05 L1648.42 890.01 L1645.46 890.97 L1642.5 891.92 L1639.54 892.88 L1636.58 893.84 L1633.62 894.79 L1630.65 895.74 L1627.69 896.69 L1624.73 897.64 L1621.77 898.59 L1618.81 899.53 L1615.85 900.47 L1612.89 901.41 L1609.93 902.34 L1606.97 903.27 L1604.01 904.2 L1601.05 905.12 L1598.09 906.03 L1595.12 906.94 L1592.16 907.84 L1589.2 908.73 L1586.24 909.61 L1583.28 910.49 L1580.32 911.35 L1577.36 912.21 L1574.4 913.05 L1571.44 913.87 L1568.48 914.69 L1565.52 915.48 L1562.56 916.26 L1559.59 917.02 L1556.63 917.77 L1553.67 918.49 L1550.71 919.18 L1547.75 919.86 L1544.79 920.51 L1541.83 921.13 L1538.87 921.73 L1535.91 922.3 L1532.95 922.85 L1529.99 923.36 L1527.03 923.85 L1524.06 924.31 L1521.1 924.74 L1518.14 925.14 L1515.18 925.52 L1512.22 925.87 L1509.26 926.19 L1506.3 926.49 L1503.34 926.77 L1500.38 927.02 L1497.42 927.25 L1494.46 927.46 L1491.5 927.66 L1488.53 927.83 L1485.57 927.99 L1482.61 928.14 L1479.65 928.27 L1476.69 928.38 L1473.73 928.49 L1470.77 928.59 L1467.81 928.67 L1464.85 928.75 L1461.89 928.82 L1458.93 928.88 L1455.97 928.94 L1453 928.99 L1450.04 929.03 L1447.08 929.07 L1444.12 929.11 L1441.16 929.14 L1438.2 929.17 L1435.24 929.19 L1432.28 929.22 L1429.32 929.24 L1426.36 929.25 L1423.4 929.27 L1420.44 929.28 L1417.47 929.3 L1414.51 929.31 L1411.55 929.32 L1408.59 929.33 L1405.63 929.34 L1402.67 929.34 L1399.71 929.35 L1396.75 929.35 L1393.79 929.36 L1390.83 929.36 L1387.87 929.37 L1384.91 929.37 L1381.94 929.37 L1378.98 929.38 L1376.02 929.38 L1373.06 929.38 L1370.1 929.38 L1367.14 929.39 L1364.18 929.39 L1361.22 929.39 L1358.26 929.39 L1355.3 929.39 L1352.34 929.39 L1349.38 929.39 L1346.41 929.39 L1343.45 929.39 L1340.49 929.4 L1337.53 929.4 L1334.57 929.4 L1331.61 929.4 L1328.65 929.4 L1325.69 929.4 L1322.73 929.4 L1319.77 929.4 L1316.81 929.4 L1313.85 929.4 L1310.88 929.4 L1307.92 929.4 L1304.96 929.4 L1302 929.4 L1299.04 929.4 L1296.08 929.4 L1293.12 929.4 L1290.16 929.4 L1287.2 929.4 L1284.24 929.4 L1281.28 929.4 L1278.32 929.4 L1275.35 929.4 L1272.39 929.4 L1269.43 929.4 L1266.47 929.4 L1263.51 929.4 L1260.55 929.4 L1257.59 929.4 L1254.63 929.4 L1251.67 929.4 L1248.71 929.4 L1245.75 929.4 L1242.79 929.4 L1239.82 929.4 L1236.86 929.4 L1233.9 929.4 L1230.94 929.4 L1227.98 929.4 L1225.02 929.4 L1222.06 929.4 L1219.1 929.4 L1216.14 929.4 L1213.18 929.4 L1210.22 929.4 L1207.26 929.4 L1204.29 929.4 L1201.33 929.4 L1198.37 929.4 L1195.41 929.4 L1192.45 929.4 L1189.49 929.4 L1186.53 929.4 L1183.57 929.4 L1180.61 929.4 L1177.65 929.4 L1174.69 929.4 L1171.73 929.4 L1168.76 929.4 L1165.8 929.4 L1162.84 929.4 L1159.88 929.4 L1156.92 929.4 L1153.96 929.4 L1151 929.4 L1148.04 929.4 L1145.08 929.4 L1142.12 929.4 L1139.16 929.4 L1136.2 929.4 L1133.23 929.4 L1130.27 929.4 L1127.31 929.4 L1124.35 929.4 L1121.39 929.4 L1118.43 929.4 L1115.47 929.4 L1112.51 929.4 L1109.55 929.4 L1106.59 929.4 L1103.63 929.4 L1100.67 929.4 L1097.7 929.4 L1094.74 929.4 L1091.78 929.4 L1088.82 929.4 L1085.86 929.4 L1082.9 929.4" stroke="#000000" stroke-width="5.3" fill="none" stroke-linecap="round" stroke-linejoin="round" stroke-dasharray="8.8 11.7" stroke-dashoffset="11.85"/>
<path d="M1082.9 930.4 L1085.86 930.4 L1088.82 930.4 L1091.78 930.4 L1094.74 930.4 L1097.7 930.4 L1100.67 930.4 L1103.63 930.4 L1106.59 930.4 L1109.55 930.4 L1112.51 930.4 L1115.47 930.4 L1118.43 930.4 L1121.39 930.4 L1124.35 930.4 L1127.31 930.4 L1130.27 930.4 L1133.23 930.4 L1136.2 930.4 L1139.16 930.4 L1142.12 930.4 L1145.08 930.4 L1148.04 930.4 L1151 930.4 L1153.96 930.4 L1156.92 930.4 L1159.88 930.4 L1162.84 930.4 L1165.8 930.4 L1168.76 930.4 L1171.73 930.4 L1174.69 930.4 L1177.65 930.4 L1180.61 930.4 L1183.57 930.4 L1186.53 930.4 L1189.49 930.4 L1192.45 930.4 L1195.41 930.4 L1198.37 930.4 L1201.33 930.4 L1204.29 930.4 L1207.26 930.4 L1210.22 930.4 L1213.18 930.4 L1216.14 930.4 L1219.1 930.4 L1222.06 930.4 L1225.02 930.4 L1227.98 930.4 L1230.94 930.4 L1233.9 930.4 L1236.86 930.4 L1239.82 930.4 L1242.79 930.4 L1245.75 930.4 L1248.71 930.4 L1251.67 930.4 L1254.63 930.4 L1257.59 930.4 L1260.55 930.4 L1263.51 930.4 L1266.47 930.4 L1269.43 930.4 L1272.39 930.4 L1275.35 930.4 L1278.32 930.4 L1281.28 930.4 L1284.24 930.4 L1287.2 930.4 L1290.16 930.4 L1293.12 930.4 L1296.08 930.4 L1299.04 930.4 L1302 930.4 L1304.96 930.4 L1307.92 930.4 L1310.88 930.4 L1313.85 930.4 L1316.81 930.4 L1319.77 930.4 L1322.73 930.4 L1325.69 930.4 L1328.65 930.4 L1331.61 930.4 L1334.57 930.4 L1337.53 930.4 L1340.49 930.4 L1343.45 930.4 L1346.41 930.4 L1349.38 930.4 L1352.34 930.4 L1355.3 930.4 L1358.26 930.4 L1361.22 930.4 L1364.18 930.4 L1367.14 930.4 L1370.1 930.4 L1373.06 930.4 L1376.02 930.4 L1378.98 930.4 L1381.94 930.4 L1384.91 930.4 L1387.87 930.4 L1390.83 930.4 L1393.79 930.4 L1396.75 930.4 L1399.71 930.39 L1402.67 930.39 L1405.63 930.39 L1408.59 930.39 L1411.55 930.39 L1414.51 930.39 L1417.47 930.38 L1420.44 930.38 L1423.4 930.38 L1426.36 930.37 L1429.32 930.37 L1432.28 930.36 L1435.24 930.35 L1438.2 930.34 L1441.16 930.33 L1444.12 930.32 L1447.08 930.3 L1450.04 930.28 L1453 930.26 L1455.97 930.23 L1458.93 930.19 L1461.89 930.15 L1464.85 930.1 L1467.81 930.04 L1470.77 929.97 L1473.73 929.88 L1476.69 929.78 L1479.65 929.66 L1482.61 929.51 L1485.57 929.33 L1488.53 929.12 L1491.5 928.87 L1494.46 928.58 L1497.42 928.23 L1500.38 927.82 L1503.34 927.34 L1506.3 926.77 L1509.26 926.11 L1512.22 925.35 L1515.18 924.47 L1518.14 923.46 L1521.1 922.31 L1524.06 921.01 L1527.03 919.55 L1529.99 917.93 L1532.95 916.14 L1535.91 914.18 L1538.87 912.05 L1541.83 909.76 L1544.79 907.31 L1547.75 904.7 L1550.71 901.95 L1553.67 899.07 L1556.63 896.06 L1559.59 892.93 L1562.56 889.69 L1565.52 886.36 L1568.48 882.94 L1571.44 879.43 L1574.4 875.85 L1577.36 872.2 L1580.32 868.49 L1583.28 864.71 L1586.24 860.89 L1589.2 857.01 L1592.16 853.08 L1595.12 849.1 L1598.09 845.08 L1601.05 841.02 L1604.01 836.92 L1606.97 832.78 L1609.93 828.6 L1612.89 824.38 L1615.85 820.13 L1618.81 815.84 L1621.77 811.52 L1624.73 807.16 L1627.69 802.76 L1630.65 798.34 L1633.62 793.88 L1636.58 789.39 L1639.54 784.86 L1642.5 780.3 L1645.46 775.71 L1648.42 771.08 L1651.38 766.43 L1654.34 761.74 L1657.3 757.01 L1660.26 752.26 L1663.22 747.47 L1666.18 742.65 L1669.14 737.8 L1672.11 732.92 L1675.07 728 L1678.03 723.06 L1680.99 718.08 L1683.95 713.06 L1686.91 708.02 L1689.87 702.94 L1692.83 697.84 L1695.79 692.7 L1698.75 687.52 L1701.71 682.32 L1704.68 677.08 L1707.64 671.81 L1710.6 666.51 L1713.56 661.18 L1716.52 655.81 L1719.48 650.42 L1722.44 644.99 L1725.4 639.53 L1728.36 634.03 L1731.32 628.51 L1734.28 622.95" stroke="#1a6f22" stroke-width="4.6" fill="none" stroke-linecap="round" stroke-linejoin="round"/>
</g>
<g font-size="36.5" text-anchor="end">
<text x="1052" y="941.6">0</text>
<text x="1052" y="898.24">0.02</text>
<text x="1052" y="854.88">0.04</text>
<text x="1052" y="811.51">0.06</text>
<text x="1052" y="768.15">0.08</text>
<text x="1052" y="724.79">0.1</text>
<text x="1052" y="681.43">0.12</text>
<text x="1052" y="638.06">0.14</text>
<text x="1052" y="594.7">0.16</text>
</g>
<g font-size="36.5" text-anchor="middle">
<text x="1082.9" y="984">0</text>
<text x="1201.33" y="984">0.2</text>
<text x="1319.77" y="984">0.4</text>
<text x="1438.2" y="984">0.6</text>
<text x="1556.63" y="984">0.8</text>
<text x="1675.07" y="984">1</text>
<text x="1793.5" y="984">1.2</text>
</g>
<path d="M1138.5 626.4H1183" stroke="#ff0000" stroke-width="4.4" stroke-linecap="round"/>
<text x="1188.5" y="638.2" font-size="36.0">Pristine</text>
<path d="M1138.5 688.5H1183" stroke="#000000" stroke-width="5.3" stroke-linecap="round" stroke-dasharray="8.8 11.7"/>
<text x="1188.5" y="700.3" font-size="36.0">2.65 Mrad gamma radiated</text>
<path d="M1138.5 751.6H1183" stroke="#1a6f22" stroke-width="4.6" stroke-linecap="round"/>
<text x="1188.5" y="762.9" font-size="36.0">EWF-annealed</text>
<text x="1438" y="1037.3" font-size="43.3" text-anchor="middle">Forward voltage V<tspan font-size="28.79" dy="10.3">F</tspan><tspan dy="-10.3"> (V)</tspan></text>
<text transform="translate(955.4 775.6) rotate(-90)" font-size="43.3" text-anchor="middle">Forward current I<tspan font-size="28.79" dy="10.3">F</tspan><tspan dy="-10.3"> (A)</tspan></text>
<text x="1416.8" y="1088.3" font-size="51" text-anchor="middle">(d)</text>
</g>
</svg>
</body></html>
